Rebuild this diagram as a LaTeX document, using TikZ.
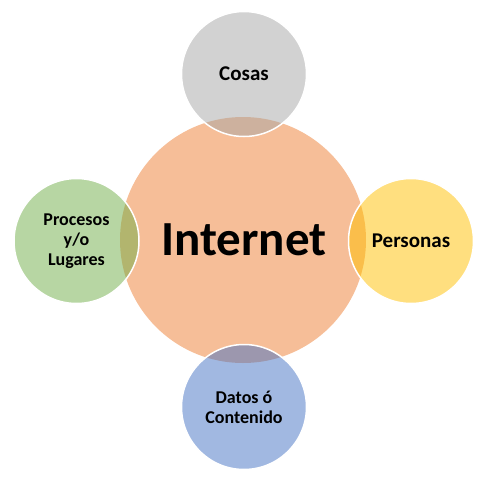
\documentclass[tikz,border=0pt]{standalone}
\usepackage{fontspec}
\setmainfont{Carlito}
\definecolor{cOrange}{HTML}{ED7D31}
\definecolor{cGray}{HTML}{A5A5A5}
\definecolor{cYellow}{HTML}{FFC000}
\definecolor{cGreen}{HTML}{70AD47}
\definecolor{cBlue}{HTML}{4472C4}
\tikzset{
  hub/.style={circle, inner sep=0pt, minimum size=246pt, fill=cOrange, fill opacity=0.5, text opacity=1, draw=none},
  sat/.style={circle, inner sep=0pt, minimum size=125pt, fill opacity=0.5, draw=white, draw opacity=1, line width=1.5pt, text opacity=1, align=center},
  bigfont/.style={font=\fontsize{49}{55}\selectfont\bfseries},
  midfont/.style={font=\fontsize{21}{24}\selectfont\bfseries},
  smallfont/.style={font=\fontsize{18}{19.7}\selectfont\bfseries}
}
\begin{document}
\begin{tikzpicture}[x=1pt,y=-1pt]
\useasboundingbox (0,0) rectangle (483,483);
\node[hub] (hub) at (243,240) {};
\node[sat, fill=cGray, midfont] (cosas) at (244,74) {Cosas};
\node[sat, fill=cYellow, midfont] (personas) at (411,241) {Personas};
\node[sat, fill=cGreen, smallfont] (procesos) at (76.5,241) {Procesos\\y/o\\Lugares};
\node[sat, fill=cBlue, smallfont] (datos) at (244,407) {Datos ó\\Contenido};
\node[bigfont] (internet) at (244,240) {Internet};
\end{tikzpicture}
\end{document}
